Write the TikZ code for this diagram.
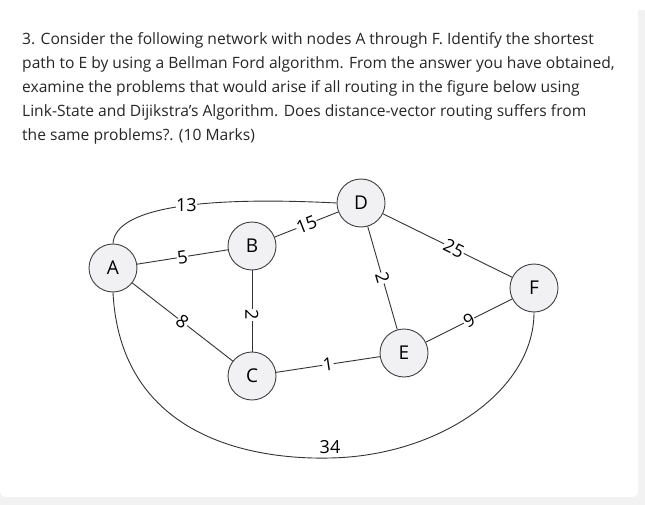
\documentclass[tikz,border=0pt]{standalone}
\usepackage{fontspec}
\setmainfont{Open Sans}
\begin{document}
\begin{tikzpicture}[x=1pt,y=-1pt,
  nd/.style={circle,draw=black!75,line width=0.9pt,fill=blue!6!gray!10,minimum size=48pt,inner sep=0pt,font=\fontsize{19}{19}\selectfont},
  ed/.style={draw=black!80,line width=0.9pt},
  lb/.style={fill=white,inner sep=0.5pt,sloped,font=\fontsize{18}{18}\selectfont},
  tx/.style={anchor=west,inner sep=0pt,font=\fontsize{15.6}{15.6}\selectfont,text=black!85}]
\fill[gray!10] (0,0) rectangle (645,495);
\fill[white,rounded corners=6pt] (0,-10) rectangle (638,487);
\useasboundingbox (0,0) rectangle (645,495);
\node[tx] (t1) at (22,30) {3. Consider the following network with nodes A through F. Identify the shortest};
\node[tx] (t2) at (22,54) {path to E by using a Bellman Ford algorithm. From the answer you have obtained,};
\node[tx] (t3) at (22,78) {examine the problems that would arise if all routing in the figure below using};
\node[tx] (t4) at (22,102) {Link-State and Dijikstra's Algorithm. Does distance-vector routing suffers from};
\node[tx] (t5) at (22,126) {the same problems?. (10 Marks)};
\node[nd] (A) at (113,258) {A};
\node[nd] (B) at (252,236) {B};
\node[nd] (C) at (252,366) {C};
\node[nd] (D) at (361,193) {D};
\node[nd] (E) at (404,343) {E};
\node[nd] (F) at (534,278) {F};
\draw[ed] (A) -- node[lb]{5} (B);
\draw[ed] (A) -- node[lb]{8} (C);
\draw[ed] (B) -- node[lb,pos=0.55]{2} (C);
\draw[ed] (B) -- node[lb]{15} (D);
\draw[ed] (D) -- node[lb]{2} (E);
\draw[ed] (D) -- node[lb,pos=0.55]{25} (F);
\draw[ed] (E) -- node[lb]{9} (F);
\draw[ed] (C) -- node[lb]{1} (E);
\draw[ed] (A.north) .. controls (115,198) and (200,186) .. node[lb,pos=0.55,sloped=false]{13} (D.west);
\draw[ed] (A.south) .. controls (120,420) and (240,450) .. (330,448) .. controls (440,446) and (534,380) .. (F.south);
\node[fill=white,inner sep=0.5pt,font=\fontsize{18}{18}\selectfont] (l34) at (330,437) {34};
\end{tikzpicture}
\end{document}
